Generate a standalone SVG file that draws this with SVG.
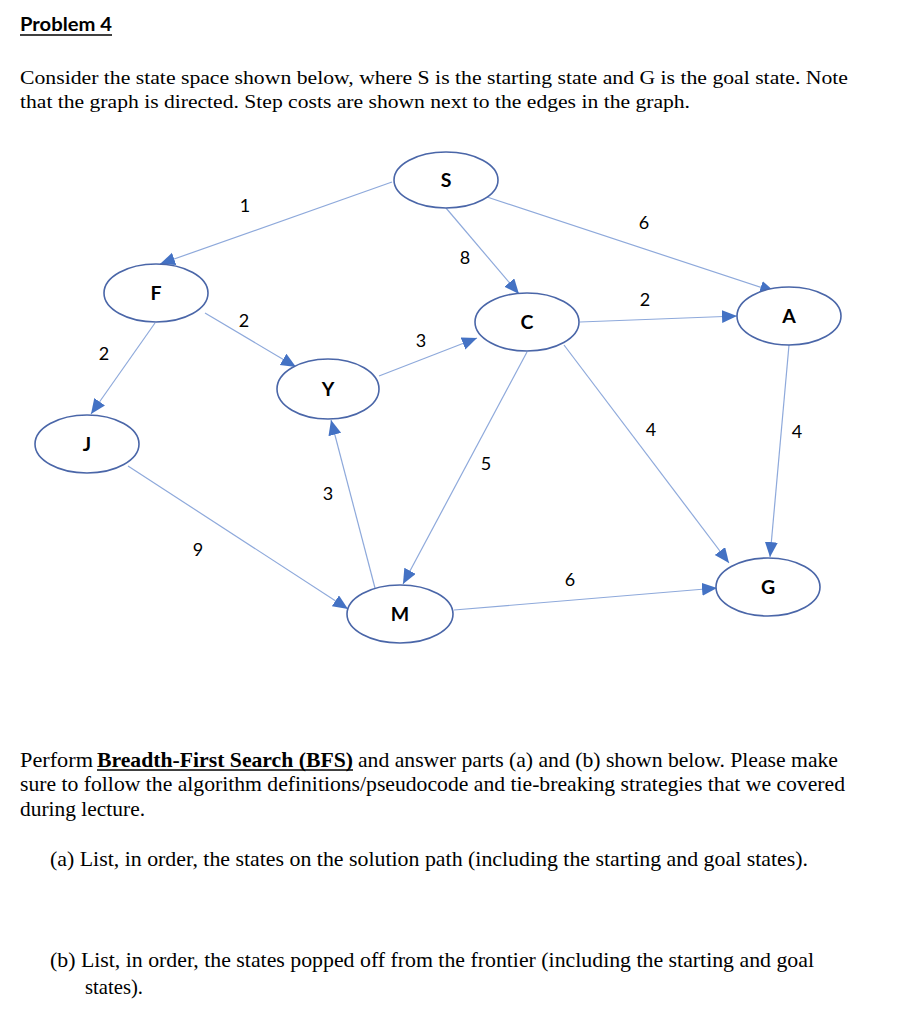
<svg xmlns="http://www.w3.org/2000/svg" width="898" height="1024" viewBox="0 0 898 1024">
<defs>
<marker id="arr" markerUnits="userSpaceOnUse" markerWidth="16" markerHeight="14" refX="15" refY="6.5" orient="auto">
<path d="M0,0 L15,6.5 L0,13 z" fill="#4472C4"/>
</marker>
<style>
.t{font-family:"Liberation Serif",serif;font-size:19.5px;fill:#000}
.b{font-family:"Liberation Serif",serif;font-size:21px;fill:#000}
.node ellipse{fill:#fff;stroke:#4A66A8;stroke-width:1.6}
.node text{font-family:"Lato","Liberation Sans",sans-serif;font-weight:bold;font-size:19.5px;text-anchor:middle;fill:#000}
.lbl{font-family:"Lato","Liberation Sans",sans-serif;font-size:18px;text-anchor:middle;fill:#000}
#edges line{stroke:#8EA9DB;stroke-width:1.2;marker-end:url(#arr)}
</style>
</defs>
<rect width="898" height="1024" fill="#fff"/>
<text x="20" y="31" font-family="Lato,'Liberation Sans',sans-serif" font-weight="bold" font-size="18" textLength="92" lengthAdjust="spacingAndGlyphs">Problem 4</text>
<line x1="20" y1="35" x2="112" y2="35" stroke="#000" stroke-width="1.3"/>
<text class="t" x="20" y="84" textLength="828" lengthAdjust="spacingAndGlyphs">Consider the state space shown below, where S is the starting state and G is the goal state. Note</text>
<text class="t" x="20" y="108" textLength="670" lengthAdjust="spacingAndGlyphs">that the graph is directed. Step costs are shown next to the edges in the graph.</text>

<g id="edges">
<line x1="392" y1="182" x2="160" y2="264"/>
<line x1="446" y1="208" x2="519" y2="294"/>
<line x1="487" y1="197" x2="775" y2="292"/>
<line x1="205" y1="313" x2="296" y2="367"/>
<line x1="155" y1="323" x2="91" y2="414"/>
<line x1="379" y1="376" x2="477" y2="338"/>
<line x1="375" y1="588" x2="331" y2="420"/>
<line x1="527" y1="352" x2="403" y2="584"/>
<line x1="564" y1="345" x2="729" y2="563"/>
<line x1="580" y1="322" x2="737" y2="316"/>
<line x1="789" y1="345" x2="770" y2="557"/>
<line x1="128" y1="466" x2="348" y2="609"/>
<line x1="454" y1="610" x2="717" y2="588"/>
</g>

<g id="edge-labels">
<text class="lbl" x="245" y="212">1</text>
<text class="lbl" x="465" y="264">8</text>
<text class="lbl" x="644" y="229">6</text>
<text class="lbl" x="244" y="327">2</text>
<text class="lbl" x="104" y="360">2</text>
<text class="lbl" x="421" y="347">3</text>
<text class="lbl" x="328" y="500">3</text>
<text class="lbl" x="486" y="470">5</text>
<text class="lbl" x="651" y="436">4</text>
<text class="lbl" x="645" y="306">2</text>
<text class="lbl" x="797" y="438">4</text>
<text class="lbl" x="198" y="556">9</text>
<text class="lbl" x="570" y="586">6</text>
</g>

<g id="node-S" class="node"><ellipse cx="446" cy="180" rx="52" ry="28"/><text x="446" y="187">S</text></g>
<g id="node-F" class="node"><ellipse cx="156" cy="293" rx="52" ry="29"/><text x="156" y="300">F</text></g>
<g id="node-J" class="node"><ellipse cx="87" cy="444" rx="52" ry="29"/><text x="87" y="451">J</text></g>
<g id="node-Y" class="node"><ellipse cx="328" cy="389" rx="51" ry="30"/><text x="328" y="396">Y</text></g>
<g id="node-C" class="node"><ellipse cx="527" cy="322" rx="52" ry="29"/><text x="527" y="329">C</text></g>
<g id="node-A" class="node"><ellipse cx="789" cy="316" rx="52" ry="29"/><text x="789" y="323">A</text></g>
<g id="node-M" class="node"><ellipse cx="400" cy="614" rx="53" ry="29"/><text x="400" y="621">M</text></g>
<g id="node-G" class="node"><ellipse cx="768" cy="587" rx="52" ry="29"/><text x="768" y="594">G</text></g>

<text class="b" x="20" y="767" textLength="73" lengthAdjust="spacingAndGlyphs">Perform</text>
<text class="b" x="97" y="767" font-weight="bold" textLength="256" lengthAdjust="spacingAndGlyphs">Breadth-First Search (BFS)</text>
<line x1="97" y1="770" x2="353" y2="770" stroke="#000" stroke-width="1.3"/>
<text class="b" x="358" y="767" textLength="480" lengthAdjust="spacingAndGlyphs">and answer parts (a) and (b) shown below. Please make</text>
<text class="b" x="20" y="791" textLength="825" lengthAdjust="spacingAndGlyphs">sure to follow the algorithm definitions/pseudocode and tie-breaking strategies that we covered</text>
<text class="b" x="20" y="816" textLength="125" lengthAdjust="spacingAndGlyphs">during lecture.</text>
<text class="b" x="50" y="866" textLength="758" lengthAdjust="spacingAndGlyphs">(a) List, in order, the states on the solution path (including the starting and goal states).</text>
<text class="b" x="50" y="967" textLength="764" lengthAdjust="spacingAndGlyphs">(b) List, in order, the states popped off from the frontier (including the starting and goal</text>
<text class="b" x="85" y="994" textLength="58" lengthAdjust="spacingAndGlyphs">states).</text>
</svg>
